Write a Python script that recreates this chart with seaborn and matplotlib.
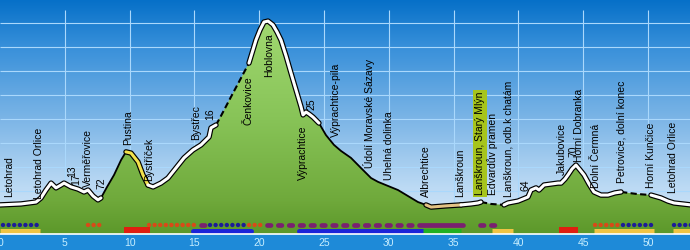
import numpy as np
import pandas as pd
import matplotlib
matplotlib.use("Agg")
import matplotlib.pyplot as plt
import seaborn as sns
from matplotlib.colors import LinearSegmentedColormap

# ---------------- data ----------------
dist_km = [0.0, 1.62, 2.78, 3.16, 3.55, 3.94, 4.32, 4.71, 4.94, 5.48, 6.02, 6.48, 6.79,
           7.18, 7.56, 7.79, 8.26, 8.80, 9.34, 9.72, 10.11, 10.65, 11.03, 11.42, 11.81,
           12.42, 12.96, 13.58, 14.20, 14.89, 15.51, 16.13, 16.28, 16.67, 17.21, 17.82,
           18.60, 19.21, 19.52, 19.75, 20.06, 20.37, 20.68, 21.06, 21.37, 21.68, 22.07,
           22.45, 22.84, 23.23, 23.38, 23.61, 23.84, 24.15, 24.61, 25.15, 25.77, 26.31,
           27.08, 27.85, 28.63, 29.17, 29.94, 30.71, 31.48, 32.25, 32.87, 33.26, 34.41,
           35.57, 36.34, 36.88, 37.11, 37.89, 38.89, 39.20, 39.97, 40.74, 40.97, 41.36,
           41.59, 41.98, 42.52, 43.06, 43.29, 43.60, 43.83, 44.14, 44.44, 44.75, 45.06,
           45.45, 45.83, 46.37, 46.91, 47.45, 47.92, 49.07, 50.23, 51.00, 51.54, 52.01,
           53.32]
elev_m = [342, 346, 354, 371, 404, 433, 413, 425, 433, 417, 408, 396, 404,
          379, 363, 371, 417, 467, 529, 563, 558, 521, 467, 425, 417,
          433, 454, 496, 538, 571, 592, 625, 663, 675, 729, 792,
          871, 933, 988, 1029, 1071, 1104, 1108, 1092, 1063, 1029, 963,
          892, 821, 750, 717, 729, 721, 708, 683, 633, 592, 567,
          538, 496, 454, 438, 421, 404, 379, 354, 342, 333, 338,
          342, 346, 350, 354, 346, 342, 350, 358, 375, 404, 413,
          404, 425, 429, 433, 433, 450, 467, 492, 508, 488, 467,
          429, 396, 383, 383, 392, 396, 388, 383, 371, 358, 350,
          342]

# surface of the route: (start km, end km, style)
seg_start = [0.0, 7.79, 9.72, 11.42, 16.67, 19.21, 24.61, 32.87, 35.57, 37.11, 38.89, 47.92, 50.23]
seg_end = [7.79, 9.72, 11.42, 16.67, 19.21, 24.61, 32.87, 35.57, 37.11, 38.89, 47.92, 50.23, 53.32]
seg_style = ["white", "thin", "yellow", "white", "dashed", "white", "thin", "tan",
             "white", "dashed", "white", "dashed", "white"]

# place names / km marks along the profile: km, elevation of text base, text
label_km = [0.69, 3.01, 5.56, 5.86, 6.79, 7.79, 9.88, 11.50, 15.12, 16.20, 19.21, 20.76,
            24.00, 23.38, 25.93, 28.47, 30.02, 32.87, 35.49, 37.04, 38.04, 39.20, 40.51,
            43.36, 44.21, 44.68, 45.99, 47.99, 50.23, 51.93]
label_base = [375, 367, 458, 425, 417, 408, 592, 442, 613, 696, 675, 875,
              738, 446, 625, 496, 446, 375, 375, 383, 383, 375, 400,
              467, 542, 521, 413, 433, 413, 392]
label_text = ["Letohrad", "Letohrad Orlice", "13", "17", "Verměřovice", "72", "Pustina",
              "Bystříček", "Bystřec", "16", "Čenkovice", "Hoblovna", "25", "Výprachtice",
              "Výprachtice-pila", "Údolí Moravské Sázavy", "Uhelná dolinka", "Albrechtice",
              "Lanškroun", "Lanškroun, Starý Mlýn", "Edvardův pramen",
              "Lanškroun, odb.k chatám", "64", "Jakubovice", "70", "Horní Dobranka",
              "Dolní Čermná", "Petrovice, dolní konec", "Horní Kunčice", "Letohrad Orlice"]
highlight_label = "Lanškroun, Starý Mlýn"

# marked trails (dot row)
dot_start = [0.23, 6.79, 11.5, 15.5, 16.2, 19.2, 20.6, 32.3, 37.0, 45.9, 48.1, 52.0]
dot_end = [2.93, 7.72, 15.2, 15.9, 18.9, 20.4, 32.3, 35.7, 38.4, 48.0, 50.4, 53.4]
dot_color = ["navy", "orange", "orange", "purple", "navy", "orange", "purple", "purple",
             "purple", "orange", "navy", "navy"]
dot_kind = ["dot", "dot", "dot", "pill", "dot", "dot", "pill", "solid", "pill", "dot", "dot", "dot"]

# cycle routes (bar row)
bar_start = [0.0, 9.6, 14.9, 23.1, 32.6, 38.0, 43.1, 45.8, 51.9]
bar_end = [3.1, 11.6, 19.4, 32.6, 35.6, 39.6, 44.6, 50.5, 53.4]
bar_color = ["yellow", "red", "blue", "blue", "green", "yellow", "red", "yellow", "yellow"]

tick_km = [0, 5, 10, 15, 20, 25, 30, 35, 40, 45, 50]
grid_elev = [300, 400, 500, 600, 700, 800, 900, 1000, 1100]

# ---------------- styling ----------------
palette = {"navy": "#1c1c98", "orange": "#d84a18", "purple": "#7a2070",
           "yellow": "#f0c444", "red": "#e01e10", "blue": "#1c24d8", "green": "#22b022"}
fill_col = {"white": "white", "yellow": "#f2e24c", "tan": "#e2c284"}

sns.set_style("white")
plt.rcParams["font.family"] = ["Liberation Sans", "DejaVu Sans"]

XMIN, XMAX = 0.0, 53.24
YMIN, YMAX = 220.8, 1195.8

fig = plt.figure(figsize=(6.9, 2.5), dpi=100, facecolor="#1e8ad8")
ax = fig.add_axes([0, 16 / 250, 1, 234 / 250])
ax.set_xlim(XMIN, XMAX)
ax.set_ylim(YMIN, YMAX)

sky = LinearSegmentedColormap.from_list(
    "sky", [(0.0, "#d8eafa"), (0.2, "#bcdaf4"), (0.5, "#7ab4e6"), (0.8, "#3890da"), (1.0, "#0670c8")])
grad = np.linspace(0, 1, 256).reshape(-1, 1)
ax.imshow(grad, cmap=sky, extent=[XMIN, XMAX, YMIN, YMAX], origin="lower",
          aspect="auto", zorder=0, interpolation="bicubic")

ax.hlines(grid_elev, XMIN, XMAX, color="#aad8fc", lw=0.8, zorder=1)
ax.vlines(tick_km[1:], YMIN, 1154, color="#aad8fc", lw=0.8, zorder=1)

dist = np.array(dist_km, float)
elev = np.array(elev_m, float)
poly = ax.fill_between(dist, elev, YMIN, color="none", lw=0, zorder=2)
greens = LinearSegmentedColormap.from_list(
    "greens", [(0.0, "#5c982a"), (0.15, "#70aa3c"), (0.5, "#88c458"), (0.9, "#a0d870"), (1.0, "#a8e078")])
gim = ax.imshow(grad, cmap=greens, extent=[XMIN, XMAX, YMIN, YMAX], origin="lower",
                aspect="auto", zorder=2, interpolation="bicubic")
gim.set_clip_path(poly.get_paths()[0], transform=ax.transData)


def piece(a, b):
    xs = np.concatenate([[a], dist[(dist > a) & (dist < b)], [b]])
    ys = np.interp(xs, dist, elev)
    return pd.DataFrame({"km": xs, "m": ys})


for a, b, st in zip(seg_start, seg_end, seg_style):
    df = piece(a, b)
    if st in fill_col:
        sns.lineplot(data=df, x="km", y="m", ax=ax, sort=False, estimator=None, color="black",
                     lw=3.9, solid_capstyle="round", solid_joinstyle="round", zorder=3)
    elif st == "thin":
        sns.lineplot(data=df, x="km", y="m", ax=ax, sort=False, estimator=None, color="black",
                     lw=1.3, solid_capstyle="round", zorder=3)
    else:
        sns.lineplot(data=df, x="km", y="m", ax=ax, sort=False, estimator=None, color="black",
                     lw=1.5, linestyle=(0, (3, 1.6)), zorder=3)
for a, b, st in zip(seg_start, seg_end, seg_style):
    if st in fill_col:
        df = piece(a, b)
        sns.lineplot(data=df, x="km", y="m", ax=ax, sort=False, estimator=None,
                     color=fill_col[st], lw=2.2, solid_capstyle="round",
                     solid_joinstyle="round", zorder=4)

DOT_Y, BAR_Y, RED_Y = 258, 233.3, 236
for a, b, c, k in zip(dot_start, dot_end, dot_color, dot_kind):
    if k == "dot":
        ax.plot([a, b], [DOT_Y, DOT_Y], color=palette[c], lw=3.2,
                linestyle=(0, (0.01, 1.25)), dash_capstyle="round", zorder=4)
    elif k == "pill":
        ax.plot([a, b], [DOT_Y, DOT_Y], color=palette[c], lw=3.4,
                linestyle=(0, (0.75, 1.55)), dash_capstyle="round", zorder=4)
    else:
        ax.plot([a, b], [DOT_Y, DOT_Y], color=palette[c], lw=3.4,
                solid_capstyle="round", zorder=4)
for a, b, c in zip(bar_start, bar_end, bar_color):
    y = RED_Y if c == "red" else BAR_Y
    w = 4.3 if c == "red" else 3.6
    cap = "round" if c == "blue" else "butt"
    ax.plot([a, b], [y, y], color=palette[c], lw=w, solid_capstyle=cap, zorder=4)

for x, y, t in zip(label_km, label_base, label_text):
    kw = {}
    if t == highlight_label:
        kw["bbox"] = dict(boxstyle="square,pad=0.15", fc="#a6c41c", ec="none")
    ax.text(x, y, t, rotation=90, ha="center", va="bottom", fontsize=7.5,
            color="black", zorder=6, **kw)

ax.set_xticks(tick_km)
ax.set_xticklabels([str(t) for t in tick_km])
ax.set_yticks([])
ax.set_xlabel("")
ax.set_ylabel("")
ax.tick_params(axis="x", direction="in", length=3, width=1, color="white",
               labelsize=7.5, labelcolor="#c6eeff", pad=3)
for s in ["top", "left", "right"]:
    ax.spines[s].set_visible(False)
ax.spines["bottom"].set_color("white")
ax.spines["bottom"].set_linewidth(1.2)
ax.spines["bottom"].set_zorder(7)

fig.savefig("out.png", dpi=100, facecolor=fig.get_facecolor())
